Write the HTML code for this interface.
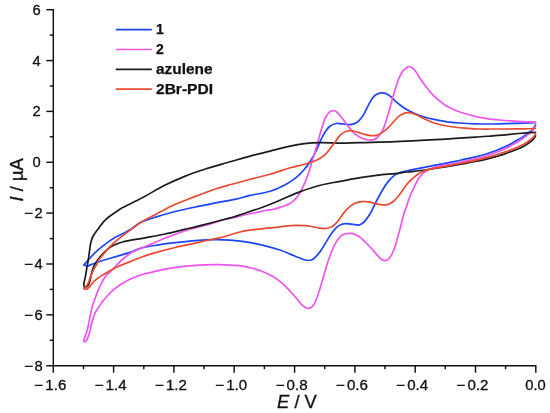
<!DOCTYPE html>
<html><head><meta charset="utf-8"><title>CV</title>
<style>html,body{margin:0;padding:0;background:#fff}svg{display:block}</style></head>
<body>
<svg width="550" height="413" viewBox="0 0 550 413">
<rect width="550" height="413" fill="#fff"/>
<path d="M535.5 125.0C535.0 125.7 533.8 128.1 532.7 129.4C531.6 130.7 530.5 131.3 528.8 132.6C527.1 133.9 524.8 135.6 522.4 137.1C520.0 138.6 517.5 140.0 514.7 141.6C511.9 143.2 508.9 145.0 505.5 146.6C502.1 148.2 497.3 150.0 494.0 151.3C490.7 152.6 488.6 153.3 485.5 154.2C482.4 155.1 478.8 156.1 475.4 156.9C472.0 157.7 468.4 158.5 465.0 159.2C461.6 159.9 460.3 160.3 455.3 161.3C450.3 162.3 441.9 163.9 435.2 165.2C428.5 166.5 419.6 168.3 415.1 169.2C410.6 170.1 410.0 170.1 408.0 170.5C406.0 170.9 404.5 171.4 403.0 171.8C401.5 172.2 400.3 172.5 399.0 173.0C397.7 173.5 396.8 173.5 395.0 174.8C393.2 176.2 390.6 178.5 388.5 181.1C386.4 183.7 384.4 186.8 382.4 190.2C380.4 193.5 378.4 197.3 376.4 201.2C374.4 205.0 372.2 210.1 370.4 213.3C368.5 216.5 366.8 218.8 365.3 220.6C363.8 222.4 362.6 223.2 361.3 224.0C360.0 224.8 358.8 225.1 357.3 225.1C355.8 225.1 354.1 224.4 352.2 224.2C350.3 223.9 348.0 223.5 346.2 223.6C344.4 223.7 342.9 223.8 341.2 224.5C339.5 225.2 337.8 226.2 336.1 227.8C334.4 229.4 332.8 231.7 331.1 234.1C329.4 236.5 327.8 239.4 326.1 242.1C324.4 244.8 322.7 247.9 321.1 250.2C319.5 252.5 317.8 254.6 316.3 256.1C314.9 257.7 313.7 258.8 312.4 259.5C311.1 260.2 309.7 260.5 308.4 260.5C307.1 260.5 306.1 260.2 304.4 259.7C302.7 259.2 300.8 258.4 298.4 257.5C296.0 256.6 293.6 255.4 290.3 254.1C287.0 252.8 282.3 250.8 278.3 249.5C274.3 248.2 270.2 247.1 266.2 246.1C262.2 245.1 258.1 244.2 254.1 243.4C250.1 242.6 246.1 241.9 242.1 241.4C238.1 240.9 234.4 240.5 230.0 240.2C225.6 239.9 221.3 239.6 215.5 239.7C209.7 239.8 202.1 240.2 195.4 240.7C188.7 241.2 181.7 242.0 175.3 242.7C168.9 243.4 162.9 244.2 157.2 245.1C151.5 246.0 145.6 246.9 141.1 248.1C136.6 249.3 134.6 250.9 130.0 252.4C125.4 253.9 118.1 256.0 113.6 257.3C109.0 258.7 106.3 259.3 102.7 260.5C99.1 261.7 94.3 263.5 91.8 264.4C89.3 265.3 88.8 265.9 87.5 266.0C86.2 266.1 84.6 265.2 84.0 265.0" fill="none" stroke="#1a46f5" stroke-width="1.7" stroke-linejoin="round" stroke-linecap="round"/>
<path d="M84.0 265.0C84.9 263.9 87.4 260.8 89.6 258.4C91.8 256.0 94.6 253.2 97.3 250.7C100.0 248.2 102.9 245.9 106.0 243.6C109.1 241.3 112.6 238.9 115.8 237.1C119.0 235.2 122.6 233.7 125.0 232.5C127.4 231.3 127.3 231.5 130.0 229.8C132.7 228.1 136.5 224.5 141.0 222.3C145.5 220.1 151.5 218.4 157.2 216.6C162.9 214.8 168.9 213.1 175.3 211.5C181.7 209.9 188.7 208.4 195.4 207.0C202.1 205.6 208.9 204.1 215.5 202.8C222.1 201.5 229.2 200.6 235.0 199.4C240.8 198.2 244.2 196.8 250.1 195.4C256.0 194.1 264.5 193.0 270.2 191.3C275.9 189.6 279.9 187.6 284.3 185.3C288.7 183.0 293.0 180.0 296.4 177.3C299.8 174.6 302.1 171.9 304.4 169.2C306.7 166.5 308.4 164.4 310.4 161.2C312.4 158.0 315.0 153.1 316.5 150.1C318.0 147.1 318.6 145.1 319.5 143.0C320.4 140.9 321.0 139.5 322.1 137.4C323.2 135.3 324.8 132.3 326.1 130.4C327.5 128.5 328.5 127.2 330.2 126.0C331.9 124.8 334.2 123.8 336.2 123.5C338.2 123.2 339.8 123.7 342.2 123.9C344.6 124.1 347.9 124.9 350.3 124.7C352.7 124.5 354.6 123.6 356.3 122.7C358.0 121.8 359.0 120.9 360.3 119.3C361.6 117.7 363.0 115.6 364.3 113.3C365.6 111.0 367.0 107.7 368.4 105.2C369.8 102.7 371.1 100.0 372.4 98.2C373.7 96.4 374.9 95.5 376.4 94.6C377.9 93.7 379.7 92.9 381.4 92.8C383.1 92.7 384.6 92.9 386.5 93.8C388.4 94.7 391.1 97.0 392.5 98.2C393.9 99.4 393.6 99.5 395.0 100.8C396.4 102.0 399.0 104.2 401.0 105.7C403.0 107.2 404.8 108.4 407.1 109.7C409.5 111.0 412.1 112.4 415.1 113.7C418.1 115.0 421.9 116.3 425.2 117.3C428.5 118.3 431.5 119.0 435.2 119.7C438.9 120.5 443.3 121.2 447.3 121.8C451.3 122.3 454.6 122.7 459.3 123.0C464.0 123.3 470.0 123.6 475.4 123.8C480.8 124.0 486.4 124.0 491.5 124.0C496.6 124.0 500.1 123.7 505.7 123.6C511.3 123.5 520.0 123.3 525.0 123.2C530.0 123.1 533.8 122.8 535.5 122.7" fill="none" stroke="#1a46f5" stroke-width="1.7" stroke-linejoin="round" stroke-linecap="round"/>
<path d="M535.5 126.2C535.0 126.9 533.8 129.0 532.7 130.3C531.6 131.6 530.5 132.5 528.8 133.9C527.1 135.3 524.8 137.1 522.4 138.7C520.0 140.3 517.5 142.0 514.7 143.6C511.9 145.2 508.9 146.9 505.5 148.5C502.1 150.1 497.3 152.0 494.0 153.3C490.7 154.6 488.6 155.3 485.5 156.2C482.4 157.1 478.8 158.1 475.4 158.9C472.0 159.7 468.4 160.5 465.0 161.2C461.6 161.9 459.6 162.5 455.3 163.3C451.0 164.1 443.6 165.2 439.2 166.2C434.8 167.2 431.9 168.0 429.2 169.2C426.5 170.4 425.0 171.5 423.2 173.2C421.4 174.9 419.6 177.0 418.1 179.3C416.6 181.7 415.4 184.5 414.1 187.3C412.8 190.1 411.4 192.7 410.1 196.0C408.8 199.3 407.4 203.8 406.3 207.0C405.2 210.2 404.5 211.7 403.5 215.0C402.5 218.3 401.5 223.2 400.5 227.1C399.5 230.9 398.5 234.6 397.5 238.1C396.5 241.6 395.5 245.3 394.5 248.2C393.5 251.0 392.4 253.4 391.4 255.2C390.4 257.0 389.4 258.3 388.4 259.2C387.4 260.1 386.6 260.6 385.4 260.6C384.2 260.6 382.9 260.3 381.4 259.2C379.9 258.1 378.2 256.2 376.4 254.2C374.5 252.2 372.3 249.4 370.3 247.2C368.3 245.0 366.3 242.9 364.3 241.1C362.3 239.2 360.3 237.3 358.3 236.1C356.3 234.9 354.1 234.1 352.2 233.7C350.3 233.3 348.9 233.3 347.2 233.5C345.5 233.7 343.7 234.2 342.2 235.1C340.7 236.0 339.5 237.3 338.2 239.1C336.9 240.9 335.5 243.1 334.1 245.8C332.8 248.5 331.4 251.9 330.1 255.5C328.8 259.1 327.4 263.2 326.1 267.5C324.8 271.8 323.4 277.1 322.1 281.4C320.8 285.7 319.6 290.0 318.5 293.3C317.4 296.6 316.5 299.2 315.5 301.4C314.5 303.6 313.5 305.2 312.4 306.4C311.3 307.6 310.0 308.2 308.8 308.4C307.6 308.6 306.6 308.1 305.4 307.4C304.2 306.7 302.9 305.9 301.4 304.4C299.9 302.9 298.2 300.5 296.4 298.3C294.5 296.1 292.6 293.8 290.3 291.3C288.0 288.8 285.0 285.7 282.3 283.3C279.6 280.9 277.2 279.1 274.2 277.2C271.2 275.3 267.6 273.6 264.2 272.2C260.8 270.8 257.8 269.8 254.1 268.8C250.4 267.8 246.1 266.8 242.1 266.2C238.1 265.6 233.8 265.5 230.0 265.2C226.2 264.9 223.6 264.7 219.5 264.6C215.4 264.5 211.1 264.5 205.4 264.8C199.7 265.1 192.0 265.5 185.3 266.2C178.6 266.9 170.9 268.2 165.2 269.2C159.5 270.2 154.6 271.5 151.1 272.3C147.6 273.1 146.3 273.4 144.0 274.0C141.7 274.6 139.4 275.3 137.1 276.2C134.8 277.1 132.0 278.3 130.0 279.2C128.0 280.1 126.5 281.0 125.0 281.8C123.5 282.6 123.2 282.7 121.3 284.0C119.4 285.3 116.0 287.6 113.6 289.6C111.2 291.6 109.1 294.0 107.1 296.2C105.1 298.4 103.2 300.5 101.6 302.7C100.0 304.9 98.3 307.8 97.3 309.3C96.3 310.8 96.4 310.0 95.6 311.8C94.8 313.6 93.4 316.9 92.4 320.3C91.4 323.7 90.5 329.0 89.6 332.3C88.7 335.6 87.7 338.3 86.9 339.9C86.1 341.5 85.2 341.7 84.7 341.9C84.2 342.1 84.1 341.3 84.0 341.2" fill="none" stroke="#ee55ee" stroke-width="1.7" stroke-linejoin="round" stroke-linecap="round"/>
<path d="M83.8 340.5C84.4 338.6 86.4 333.1 87.5 329.0C88.6 324.9 89.4 319.7 90.2 315.9C91.0 312.1 91.6 308.9 92.4 306.0C93.2 303.1 94.1 301.1 95.1 298.4C96.1 295.7 97.1 292.5 98.4 289.6C99.7 286.7 101.4 283.3 102.7 280.9C104.0 278.5 105.5 276.3 106.5 275.0C107.5 273.7 108.2 273.7 109.0 273.0C109.8 272.3 109.9 272.2 111.0 271.0C112.1 269.8 113.9 267.9 115.8 266.0C117.7 264.1 120.0 261.6 122.4 259.5C124.8 257.4 127.5 255.1 130.0 253.5C132.4 251.9 133.6 251.7 137.1 250.1C140.6 248.5 146.4 246.1 151.1 244.1C155.8 242.1 159.5 240.2 165.2 238.0C170.9 235.8 178.6 232.8 185.3 230.7C192.0 228.6 198.8 227.1 205.4 225.2C212.0 223.3 220.1 220.8 225.0 219.5C229.9 218.2 231.7 218.3 235.0 217.5C238.3 216.7 241.9 215.4 245.1 214.7C248.3 213.9 250.8 213.7 254.1 213.0C257.4 212.3 262.2 211.1 265.2 210.5C268.2 209.9 269.6 210.0 272.0 209.5C274.4 209.0 277.2 208.2 279.3 207.6C281.4 207.0 282.6 206.6 284.3 206.0C286.0 205.4 287.6 204.8 289.3 203.8C291.0 202.8 292.9 201.6 294.3 200.2C295.8 198.8 296.8 197.2 298.0 195.6C299.2 193.9 299.8 193.5 301.4 190.3C303.0 187.1 305.6 181.3 307.4 176.3C309.2 171.3 310.9 165.1 312.4 160.2C313.9 155.3 315.5 150.4 316.5 147.0C317.5 143.6 317.7 142.9 318.5 140.0C319.3 137.1 320.2 133.1 321.3 129.5C322.4 125.9 323.8 121.2 325.1 118.3C326.4 115.4 327.9 113.6 329.2 112.3C330.5 111.0 331.9 110.7 333.2 110.7C334.5 110.7 335.7 111.0 337.2 112.3C338.7 113.6 340.3 115.9 342.2 118.3C344.1 120.7 346.3 123.9 348.3 126.4C350.3 128.9 352.3 131.6 354.3 133.4C356.3 135.2 358.0 136.3 360.3 137.4C362.6 138.5 366.0 139.7 368.4 140.0C370.8 140.3 372.6 140.2 374.4 139.4C376.2 138.6 377.9 137.2 379.4 135.4C380.9 133.6 382.1 131.6 383.5 128.4C384.9 125.2 386.2 120.7 387.5 116.3C388.8 111.9 390.2 106.9 391.5 102.2C392.8 97.5 394.2 92.4 395.5 88.2C396.8 84.0 398.1 80.1 399.5 77.1C400.9 74.1 402.2 71.8 403.6 70.1C405.0 68.4 406.8 67.6 407.6 67.0C408.5 66.4 407.9 66.4 408.7 66.5C409.4 66.6 410.9 66.8 412.1 67.7C413.3 68.6 414.6 70.0 416.1 72.1C417.6 74.2 419.2 77.4 421.1 80.1C423.0 82.8 424.9 85.3 427.2 88.2C429.5 91.1 432.2 94.4 435.2 97.2C438.2 100.0 441.9 103.1 445.3 105.3C448.7 107.5 452.0 108.9 455.3 110.3C458.6 111.7 462.0 112.7 465.4 113.7C468.8 114.7 472.0 115.5 475.4 116.3C478.8 117.1 482.1 117.7 485.5 118.3C488.9 118.9 492.1 119.3 495.5 119.7C498.9 120.1 501.9 120.2 505.7 120.5C509.5 120.8 513.5 121.1 518.5 121.4C523.5 121.7 532.7 122.0 535.5 122.1" fill="none" stroke="#ee55ee" stroke-width="1.7" stroke-linejoin="round" stroke-linecap="round"/>
<path d="M535.5 135.8C535.2 136.2 534.7 137.5 534.0 138.4C533.3 139.3 532.9 139.8 531.4 141.0C529.9 142.2 527.1 144.2 525.0 145.5C522.9 146.8 521.8 147.3 518.5 148.7C515.2 150.0 509.4 152.2 505.5 153.6C501.6 155.0 498.3 155.9 495.0 156.9C491.7 157.9 488.8 158.6 485.5 159.4C482.2 160.2 478.8 160.8 475.4 161.5C472.0 162.2 470.4 162.5 465.4 163.4C460.4 164.3 452.0 165.7 445.3 166.8C438.6 167.9 431.6 169.1 425.2 170.0C418.8 170.9 412.1 171.4 407.1 172.0C402.1 172.6 399.4 173.1 395.0 173.6C390.6 174.1 386.2 174.1 380.4 174.8C374.6 175.5 367.0 176.6 360.3 177.7C353.6 178.8 346.9 180.1 340.2 181.3C333.5 182.6 327.0 183.5 320.3 185.2C313.6 186.9 306.8 189.2 300.2 191.6C293.6 194.0 286.8 197.4 281.0 199.8C275.2 202.2 271.1 204.0 265.2 206.2C259.3 208.4 250.6 211.3 245.6 213.0C240.6 214.7 238.4 215.4 235.0 216.5C231.6 217.6 229.9 218.0 225.0 219.3C220.1 220.6 212.0 222.7 205.4 224.3C198.8 226.0 192.0 227.6 185.3 229.2C178.6 230.8 171.9 232.6 165.2 234.0C158.5 235.4 151.0 236.7 145.1 237.8C139.2 238.9 133.8 239.7 130.0 240.4C126.2 241.1 125.1 241.2 122.4 242.0C119.7 242.8 116.1 244.0 113.6 245.3C111.0 246.6 109.1 248.0 107.1 249.6C105.1 251.2 103.2 253.3 101.6 255.1C100.0 256.9 98.6 258.6 97.3 260.5C96.0 262.4 94.6 264.5 93.7 266.5C92.8 268.5 92.5 269.9 91.7 272.7C91.0 275.5 90.0 281.1 89.2 283.4C88.4 285.7 87.5 285.9 86.7 286.6C86.0 287.3 85.0 287.4 84.7 287.5" fill="none" stroke="#1c1c1c" stroke-width="1.7" stroke-linejoin="round" stroke-linecap="round"/>
<path d="M84.7 287.5C84.5 287.2 83.9 286.2 83.8 285.5C83.7 284.8 83.7 284.6 84.0 283.0C84.3 281.4 85.1 278.2 85.5 276.0C85.9 273.8 86.2 271.9 86.5 270.0C86.8 268.1 87.2 266.1 87.5 264.5C87.8 262.9 87.9 262.6 88.2 260.5C88.5 258.4 89.0 254.7 89.4 251.8C89.8 248.9 90.1 245.7 90.7 243.1C91.3 240.5 91.8 238.7 92.9 236.5C94.0 234.3 95.1 232.9 97.3 230.0C99.5 227.1 102.4 222.6 106.2 219.1C110.0 215.6 117.2 211.1 120.3 209.0C123.4 206.9 122.0 207.9 125.0 206.4C128.0 204.9 135.1 201.5 138.4 199.8C141.8 198.1 140.6 198.6 145.1 196.2C149.6 193.8 158.5 188.4 165.2 185.1C171.9 181.8 178.6 178.8 185.3 176.1C192.0 173.4 198.0 171.4 205.4 169.0C212.8 166.6 222.6 164.0 230.0 161.8C237.4 159.7 243.4 157.9 250.1 156.1C256.8 154.3 263.5 152.8 270.2 151.1C276.9 149.4 284.6 147.3 290.3 146.1C296.0 144.9 299.4 144.3 304.4 143.7C309.4 143.1 314.6 142.8 320.5 142.7C326.4 142.6 333.4 143.1 340.0 143.1C346.6 143.1 350.8 142.8 360.0 142.6C369.2 142.3 382.5 142.1 395.0 141.6C407.5 141.1 425.2 140.1 435.2 139.6C445.2 139.1 448.3 138.8 455.0 138.4C461.7 138.0 469.1 137.6 475.4 137.2C481.7 136.8 487.8 136.2 492.8 135.8C497.9 135.4 501.4 135.2 505.7 134.8C510.0 134.4 514.6 133.9 518.5 133.5C522.4 133.1 526.0 132.8 528.8 132.6C531.6 132.4 534.4 132.4 535.5 132.4" fill="none" stroke="#1c1c1c" stroke-width="1.7" stroke-linejoin="round" stroke-linecap="round"/>
<path d="M535.5 133.5C535.2 134.0 534.7 135.6 534.0 136.5C533.3 137.4 532.9 137.8 531.4 139.0C529.9 140.2 527.1 142.2 525.0 143.5C522.9 144.8 521.8 145.3 518.5 146.7C515.2 148.1 509.4 150.4 505.5 151.8C501.6 153.2 498.3 154.2 495.0 155.2C491.7 156.2 488.8 157.1 485.5 157.9C482.2 158.8 478.8 159.6 475.4 160.3C472.0 161.1 470.4 161.4 465.4 162.4C460.4 163.4 451.0 165.2 445.3 166.3C439.6 167.4 434.9 168.0 431.2 168.8C427.5 169.6 425.2 170.4 423.2 171.2C421.2 172.0 420.4 172.7 419.0 173.5C417.6 174.3 416.4 175.2 415.1 176.3C413.8 177.4 412.3 178.5 411.0 179.8C409.7 181.1 408.3 182.6 407.1 184.0C405.9 185.4 405.0 186.9 404.0 188.3C403.0 189.7 402.0 191.1 401.0 192.5C400.0 193.9 399.0 195.3 398.0 196.5C397.0 197.7 395.9 198.9 395.0 199.8C394.1 200.7 393.4 201.3 392.5 202.0C391.6 202.7 390.5 203.3 389.5 203.8C388.5 204.3 388.0 204.7 386.5 204.8C385.0 204.9 382.4 204.9 380.4 204.6C378.4 204.3 376.4 203.7 374.4 203.2C372.4 202.7 370.4 202.1 368.4 201.8C366.4 201.5 364.3 201.4 362.3 201.6C360.3 201.8 358.3 202.0 356.3 202.8C354.3 203.6 352.3 204.6 350.3 206.2C348.3 207.8 345.6 210.8 344.2 212.3C342.8 213.8 343.2 213.6 342.2 215.0C341.2 216.4 339.7 218.9 338.2 220.7C336.7 222.5 334.4 224.9 333.1 226.0C331.8 227.1 331.8 226.8 330.6 227.2C329.4 227.6 327.8 228.3 326.0 228.5C324.2 228.7 321.9 228.5 319.8 228.2C317.7 227.9 315.9 227.2 313.5 226.8C311.1 226.4 308.4 225.8 305.4 225.6C302.4 225.4 298.8 225.3 295.4 225.4C292.0 225.5 289.0 225.8 285.3 226.2C281.6 226.6 277.3 227.2 273.3 227.6C269.3 228.0 265.2 228.4 261.2 228.8C257.2 229.2 253.1 229.5 249.1 230.2C245.1 230.9 241.1 231.8 237.1 232.8C233.1 233.9 228.6 235.5 225.0 236.5C221.4 237.5 220.4 237.6 215.5 238.7C210.6 239.8 202.1 241.6 195.4 243.1C188.7 244.6 181.7 246.0 175.3 247.5C168.9 249.0 162.9 250.5 157.2 252.1C151.5 253.7 145.6 255.6 141.1 257.2C136.6 258.8 133.7 260.1 130.0 261.6C126.3 263.1 122.4 264.5 119.1 266.0C115.8 267.5 112.6 269.2 110.4 270.4C108.2 271.6 107.5 272.2 106.0 273.1C104.5 274.0 103.0 274.7 101.6 275.6C100.2 276.5 98.8 277.4 97.4 278.5C96.0 279.6 94.5 280.9 93.3 282.2C92.1 283.5 91.1 285.1 90.0 286.3C88.9 287.5 87.7 288.9 86.7 289.2C85.7 289.5 84.3 288.5 83.8 288.4" fill="none" stroke="#ea4a32" stroke-width="1.7" stroke-linejoin="round" stroke-linecap="round"/>
<path d="M83.8 288.4C84.2 288.1 85.1 287.7 85.9 286.7C86.7 285.7 87.6 284.4 88.4 282.6C89.2 280.8 89.9 278.2 90.8 276.0C91.7 273.8 92.7 271.3 93.7 269.4C94.7 267.5 95.8 266.0 96.6 264.5C97.4 263.0 97.4 262.1 98.4 260.5C99.4 258.9 101.1 257.1 102.7 255.1C104.3 253.1 106.4 250.5 108.2 248.5C110.0 246.5 111.6 244.9 113.6 243.1C115.6 241.3 117.7 239.6 120.2 237.6C122.8 235.6 125.4 233.6 128.9 231.1C132.4 228.6 136.4 225.2 141.1 222.3C145.8 219.4 151.5 216.6 157.2 213.6C162.9 210.6 168.9 207.2 175.3 204.3C181.7 201.4 188.7 199.0 195.4 196.4C202.1 193.8 209.4 191.0 215.5 189.0C221.6 187.0 226.2 185.8 232.0 184.2C237.8 182.6 243.7 181.0 250.1 179.3C256.5 177.6 263.5 176.1 270.2 174.2C276.9 172.3 284.3 169.5 290.3 167.8C296.3 166.1 302.0 165.1 306.4 163.8C310.8 162.5 313.5 161.6 316.5 160.2C319.5 158.8 322.2 157.1 324.5 155.1C326.8 153.1 328.7 150.3 330.5 148.1C332.3 145.9 334.1 143.6 335.4 141.8C336.7 140.0 337.1 138.8 338.2 137.4C339.3 136.0 340.7 134.5 342.2 133.4C343.7 132.3 345.6 131.4 347.3 131.0C349.0 130.6 350.5 130.6 352.3 130.8C354.1 131.0 356.3 131.8 358.3 132.4C360.3 133.0 362.3 133.9 364.3 134.4C366.3 134.9 368.4 135.4 370.4 135.6C372.4 135.8 374.4 135.9 376.4 135.4C378.4 134.9 380.5 133.6 382.4 132.4C384.2 131.2 385.6 130.2 387.5 128.4C389.4 126.6 391.7 123.8 393.5 121.8C395.3 119.8 396.9 118.0 398.5 116.6C400.1 115.2 401.5 114.2 403.3 113.6C405.1 112.9 407.1 112.6 409.1 112.7C411.1 112.8 412.8 113.4 415.1 114.3C417.5 115.2 420.5 117.0 423.2 118.3C425.9 119.6 428.2 120.9 431.2 122.0C434.2 123.1 437.5 124.2 441.2 125.0C444.9 125.8 449.3 126.5 453.3 127.0C457.3 127.5 461.0 127.9 465.4 128.2C469.8 128.5 474.5 128.9 479.5 129.0C484.5 129.1 491.1 129.0 495.5 129.0C499.9 129.0 500.8 129.0 505.7 129.0C510.6 129.0 520.5 128.9 525.0 128.8C529.5 128.7 531.0 128.6 532.7 128.5C534.5 128.4 535.0 128.3 535.5 128.3" fill="none" stroke="#ea4a32" stroke-width="1.7" stroke-linejoin="round" stroke-linecap="round"/>
<g stroke="#111" stroke-width="1.45" fill="none">
<path d="M53.3 9.1V372.7"/>
<path d="M46.3 365.7H536.4"/>
<path d="M46.3 9.7H53.3"/>
<path d="M49.8 35.1H53.3"/>
<path d="M46.3 60.6H53.3"/>
<path d="M49.8 86.0H53.3"/>
<path d="M46.3 111.4H53.3"/>
<path d="M49.8 136.8H53.3"/>
<path d="M46.3 162.3H53.3"/>
<path d="M49.8 187.7H53.3"/>
<path d="M46.3 213.1H53.3"/>
<path d="M49.8 238.6H53.3"/>
<path d="M46.3 264.0H53.3"/>
<path d="M49.8 289.4H53.3"/>
<path d="M46.3 314.8H53.3"/>
<path d="M49.8 340.3H53.3"/>
<path d="M83.5 365.7V369.2"/>
<path d="M113.6 365.7V372.7"/>
<path d="M143.8 365.7V369.2"/>
<path d="M173.9 365.7V372.7"/>
<path d="M204.1 365.7V369.2"/>
<path d="M234.2 365.7V372.7"/>
<path d="M264.4 365.7V369.2"/>
<path d="M294.6 365.7V372.7"/>
<path d="M324.7 365.7V369.2"/>
<path d="M354.9 365.7V372.7"/>
<path d="M385.0 365.7V369.2"/>
<path d="M415.2 365.7V372.7"/>
<path d="M445.3 365.7V369.2"/>
<path d="M475.5 365.7V372.7"/>
<path d="M505.6 365.7V369.2"/>
<path d="M535.8 365.7V372.7"/>
</g>
<g font-family="'Liberation Sans', Arial, sans-serif" font-size="14" fill="#111" stroke="#111" stroke-width="0.3">
<text x="32.6" y="14.7" textLength="8.2" lengthAdjust="spacingAndGlyphs">6</text>
<text x="32.6" y="65.6" textLength="8.2" lengthAdjust="spacingAndGlyphs">4</text>
<text x="32.6" y="116.4" textLength="8.2" lengthAdjust="spacingAndGlyphs">2</text>
<text x="32.6" y="167.3" textLength="8.2" lengthAdjust="spacingAndGlyphs">0</text>
<text x="24.0" y="218.1" textLength="9" lengthAdjust="spacingAndGlyphs">−</text><text x="34.4" y="218.1" textLength="8.2" lengthAdjust="spacingAndGlyphs">2</text>
<text x="24.0" y="269.0" textLength="9" lengthAdjust="spacingAndGlyphs">−</text><text x="34.4" y="269.0" textLength="8.2" lengthAdjust="spacingAndGlyphs">4</text>
<text x="24.0" y="319.8" textLength="9" lengthAdjust="spacingAndGlyphs">−</text><text x="34.4" y="319.8" textLength="8.2" lengthAdjust="spacingAndGlyphs">6</text>
<text x="24.0" y="370.7" textLength="9" lengthAdjust="spacingAndGlyphs">−</text><text x="34.4" y="370.7" textLength="8.2" lengthAdjust="spacingAndGlyphs">8</text>
<text x="34.1" y="390.2" textLength="9" lengthAdjust="spacingAndGlyphs">−</text><text x="45.3" y="390.2" textLength="21" lengthAdjust="spacingAndGlyphs">1.6</text>
<text x="94.4" y="390.2" textLength="9" lengthAdjust="spacingAndGlyphs">−</text><text x="105.6" y="390.2" textLength="21" lengthAdjust="spacingAndGlyphs">1.4</text>
<text x="154.7" y="390.2" textLength="9" lengthAdjust="spacingAndGlyphs">−</text><text x="165.9" y="390.2" textLength="21" lengthAdjust="spacingAndGlyphs">1.2</text>
<text x="215.0" y="390.2" textLength="9" lengthAdjust="spacingAndGlyphs">−</text><text x="226.2" y="390.2" textLength="21" lengthAdjust="spacingAndGlyphs">1.0</text>
<text x="275.4" y="390.2" textLength="9" lengthAdjust="spacingAndGlyphs">−</text><text x="286.6" y="390.2" textLength="21" lengthAdjust="spacingAndGlyphs">0.8</text>
<text x="335.7" y="390.2" textLength="9" lengthAdjust="spacingAndGlyphs">−</text><text x="346.9" y="390.2" textLength="21" lengthAdjust="spacingAndGlyphs">0.6</text>
<text x="396.0" y="390.2" textLength="9" lengthAdjust="spacingAndGlyphs">−</text><text x="407.2" y="390.2" textLength="21" lengthAdjust="spacingAndGlyphs">0.4</text>
<text x="456.3" y="390.2" textLength="9" lengthAdjust="spacingAndGlyphs">−</text><text x="467.5" y="390.2" textLength="21" lengthAdjust="spacingAndGlyphs">0.2</text>
<text x="525.2" y="390.2" textLength="20.5" lengthAdjust="spacingAndGlyphs">0.0</text>
</g>
<text x="277" y="407.6" font-family="'Liberation Sans', Arial, sans-serif" font-size="18.4" fill="#111" stroke="#111" stroke-width="0.3"><tspan font-style="italic">E</tspan> / V</text>
<text transform="translate(23.3 201.5) rotate(-90)" font-family="'Liberation Sans', Arial, sans-serif" font-size="18.4" fill="#111" stroke="#111" stroke-width="0.3"><tspan font-style="italic">I</tspan> / µA</text>
<g stroke-width="1.7" fill="none">
<path d="M115.8 29.7H151.8" stroke="#1a46f5"/>
<path d="M115.8 49.5H151.8" stroke="#ee55ee"/>
<path d="M115.8 69.3H151.8" stroke="#1c1c1c"/>
<path d="M115.8 89.1H151.8" stroke="#ea4a32"/>
</g>
<g font-family="'Liberation Sans', Arial, sans-serif" font-size="14" font-weight="bold" fill="#111" stroke="#111" stroke-width="0.25">
<text x="156" y="34.4">1</text>
<text x="156" y="54.2">2</text>
<text x="156" y="74.0" textLength="56.5" lengthAdjust="spacingAndGlyphs">azulene</text>
<text x="156" y="93.8" textLength="57" lengthAdjust="spacingAndGlyphs">2Br-PDI</text>
</g>
</svg>
</body></html>
